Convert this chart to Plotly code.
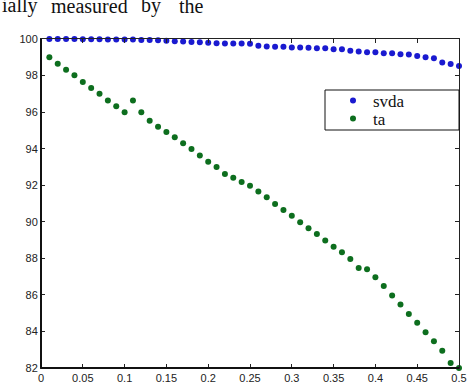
import plotly.graph_objects as go

x_vals = [round(0.01 * i, 2) for i in range(1, 51)]

svda = [100.0, 100.0, 100.0, 100.0, 99.99, 99.99, 99.99, 99.97, 99.97, 99.97,
        99.97, 99.95, 99.95, 99.93, 99.90, 99.88, 99.86, 99.84, 99.82, 99.80,
        99.77, 99.76, 99.76, 99.75, 99.74, 99.63, 99.59, 99.58, 99.57, 99.54,
        99.54, 99.52, 99.49, 99.49, 99.44, 99.44, 99.36, 99.31, 99.27, 99.27,
        99.22, 99.22, 99.16, 99.15, 99.07, 99.00, 98.94, 98.72, 98.63, 98.52]

ta = [99.00, 98.65, 98.32, 98.01, 97.65, 97.32, 97.01, 96.63, 96.32, 95.99,
      96.63, 95.99, 95.53, 95.20, 94.91, 94.62, 94.29, 93.98, 93.62, 93.29,
      93.00, 92.61, 92.41, 92.18, 91.97, 91.65, 91.34, 90.97, 90.65, 90.33,
      89.97, 89.64, 89.33, 88.97, 88.64, 88.33, 87.97, 87.47, 87.40, 86.96,
      86.49, 85.96, 85.47, 84.96, 84.48, 83.96, 83.46, 82.95, 82.28, 82.0]

x_ticks = [0, 0.05, 0.1, 0.15, 0.2, 0.25, 0.3, 0.35, 0.4, 0.45, 0.5]
x_tick_labels = ["0", "0.05", "0.1", "0.15", "0.2", "0.25", "0.3", "0.35", "0.4", "0.45", "0.5"]
y_ticks = [82, 84, 86, 88, 90, 92, 94, 96, 98, 100]
y_tick_labels = [str(v) for v in y_ticks]

header_words = ["ially", "measured", "by", "the"]
header_x_px = [0, 49, 139, 177]

W, H = 474, 385
L, R, T, B = 41, 15, 39, 17
PW, PH = W - L - R, H - T - B

def px_x(p):
    return (p - L) / PW

def px_y(p):
    return (H - B - p) / PH

fig = go.Figure()
fig.add_trace(go.Scatter(x=x_vals, y=svda, mode="markers", name="svda", legend="legend",
                         marker=dict(color="#1a1ad0", size=6), cliponaxis=False))
fig.add_trace(go.Scatter(x=x_vals, y=ta, mode="markers", name="ta", legend="legend2",
                         marker=dict(color="#0d6e1e", size=6), cliponaxis=False))

axis_common = dict(showgrid=False, zeroline=False, showline=True, linecolor="#222",
                   linewidth=1, mirror="ticks", ticks="inside", ticklen=4,
                   tickcolor="#222", tickwidth=1, automargin=False,
                   tickfont=dict(family="Liberation Sans, Arial", size=11, color="#222"))

fig.update_xaxes(range=[0, 0.5], tickvals=x_ticks, ticktext=x_tick_labels,
                 ticklabelstandoff=0, **axis_common)
fig.update_yaxes(range=[82, 100], tickvals=y_ticks, ticktext=y_tick_labels,
                 ticklabelstandoff=0, **axis_common)

# thicker left and bottom axis lines
fig.add_shape(type="line", xref="paper", yref="paper", x0=0, x1=0, y0=0, y1=1,
              line=dict(color="#111", width=2))
fig.add_shape(type="line", xref="paper", yref="paper", x0=0, x1=1, y0=0, y1=0,
              line=dict(color="#111", width=2))

# legend box
fig.add_shape(type="rect", xref="paper", yref="paper",
              x0=px_x(325), x1=px_x(459), y0=px_y(130), y1=px_y(90),
              line=dict(color="#111", width=1), fillcolor="white", layer="above")

for word, px in zip(header_words, header_x_px):
    fig.add_annotation(text=word, xref="paper", yref="paper",
                       x=px_x(px), y=1 + (T - 6) / PH,
                       xanchor="left", yanchor="middle", showarrow=False,
                       font=dict(family="Liberation Serif, Times New Roman", size=20, color="#111"))

legend_common = dict(xanchor="left", yanchor="middle", bgcolor="rgba(0,0,0,0)",
                     borderwidth=0, tracegroupgap=0, itemsizing="trace",
                     font=dict(family="Liberation Serif, serif", size=17, color="#111"))

fig.update_layout(
    width=W, height=H,
    margin=dict(l=L, r=R, t=T, b=B, autoexpand=False),
    paper_bgcolor="white", plot_bgcolor="white",
    showlegend=True,
    legend=dict(x=px_x(333), y=px_y(101), **legend_common),
    legend2=dict(x=px_x(333), y=px_y(119), **legend_common),
)

fig.write_html("out.html")
